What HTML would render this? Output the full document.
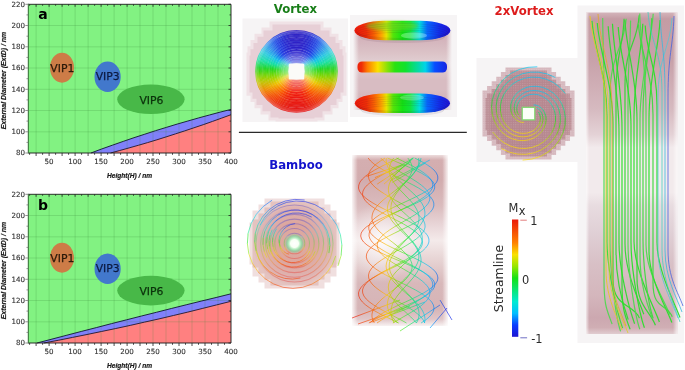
<!DOCTYPE html>
<html><head><meta charset="utf-8"><style>
html,body{margin:0;padding:0;background:#fff;}
body{width:685px;height:370px;overflow:hidden;position:relative;}
svg{position:absolute;left:0;top:0;display:block;}
</style></head><body>
<svg width="685" height="370" viewBox="0 0 685 370"><defs><filter id="soft" x="-5%" y="-5%" width="110%" height="110%"><feGaussianBlur stdDeviation="0.35"/></filter><linearGradient id="vr0" x1="0" y1="0" x2="0" y2="1"><stop offset="0%" stop-color="#3028d0"/><stop offset="5%" stop-color="#2c44e0"/><stop offset="10%" stop-color="#2860f0"/><stop offset="15%" stop-color="#22aaea"/><stop offset="20%" stop-color="#20ccbe"/><stop offset="25%" stop-color="#20d378"/><stop offset="30%" stop-color="#20d83e"/><stop offset="35%" stop-color="#20d834"/><stop offset="40%" stop-color="#20d82a"/><stop offset="45%" stop-color="#20d820"/><stop offset="50%" stop-color="#33d817"/><stop offset="55%" stop-color="#46d80d"/><stop offset="60%" stop-color="#58d804"/><stop offset="65%" stop-color="#86d800"/><stop offset="70%" stop-color="#c6d800"/><stop offset="75%" stop-color="#e7c400"/><stop offset="80%" stop-color="#f3a200"/><stop offset="85%" stop-color="#ff8000"/><stop offset="90%" stop-color="#fb4e0a"/><stop offset="95%" stop-color="#f32910"/><stop offset="100%" stop-color="#e81810"/></linearGradient><linearGradient id="vr1" x1="0" y1="0" x2="0" y2="1"><stop offset="0%" stop-color="#2f27cf"/><stop offset="5%" stop-color="#2b40de"/><stop offset="10%" stop-color="#275aee"/><stop offset="15%" stop-color="#219eea"/><stop offset="20%" stop-color="#1ec3c6"/><stop offset="25%" stop-color="#1dd08b"/><stop offset="30%" stop-color="#1dd755"/><stop offset="35%" stop-color="#1dd946"/><stop offset="40%" stop-color="#1fd933"/><stop offset="45%" stop-color="#20d820"/><stop offset="50%" stop-color="#35d816"/><stop offset="55%" stop-color="#4ad80d"/><stop offset="60%" stop-color="#5fd803"/><stop offset="65%" stop-color="#8bd800"/><stop offset="70%" stop-color="#c6d700"/><stop offset="75%" stop-color="#e7c600"/><stop offset="80%" stop-color="#f3a500"/><stop offset="85%" stop-color="#fe8300"/><stop offset="90%" stop-color="#fb5408"/><stop offset="95%" stop-color="#f42e0f"/><stop offset="100%" stop-color="#e91810"/></linearGradient><linearGradient id="vr2" x1="0" y1="0" x2="0" y2="1"><stop offset="0%" stop-color="#2e25cd"/><stop offset="5%" stop-color="#2a3bdc"/><stop offset="10%" stop-color="#2652eb"/><stop offset="15%" stop-color="#208eea"/><stop offset="20%" stop-color="#1cb7d0"/><stop offset="25%" stop-color="#1acda3"/><stop offset="30%" stop-color="#1ad671"/><stop offset="35%" stop-color="#1adb5d"/><stop offset="40%" stop-color="#1dda3f"/><stop offset="45%" stop-color="#20d820"/><stop offset="50%" stop-color="#38d816"/><stop offset="55%" stop-color="#50d80c"/><stop offset="60%" stop-color="#68d802"/><stop offset="65%" stop-color="#91d700"/><stop offset="70%" stop-color="#c6d600"/><stop offset="75%" stop-color="#e8c900"/><stop offset="80%" stop-color="#f4a900"/><stop offset="85%" stop-color="#fd8700"/><stop offset="90%" stop-color="#fc5b06"/><stop offset="95%" stop-color="#f5330d"/><stop offset="100%" stop-color="#eb1810"/></linearGradient><linearGradient id="vr3" x1="0" y1="0" x2="0" y2="1"><stop offset="0%" stop-color="#2e23cb"/><stop offset="5%" stop-color="#2937da"/><stop offset="10%" stop-color="#244ae8"/><stop offset="15%" stop-color="#1f7eea"/><stop offset="20%" stop-color="#1aabda"/><stop offset="25%" stop-color="#16c9bb"/><stop offset="30%" stop-color="#16d48e"/><stop offset="35%" stop-color="#16dd74"/><stop offset="40%" stop-color="#1bda4a"/><stop offset="45%" stop-color="#20d820"/><stop offset="50%" stop-color="#3bd816"/><stop offset="55%" stop-color="#55d80c"/><stop offset="60%" stop-color="#70d802"/><stop offset="65%" stop-color="#97d700"/><stop offset="70%" stop-color="#c6d500"/><stop offset="75%" stop-color="#e8cb00"/><stop offset="80%" stop-color="#f4ad00"/><stop offset="85%" stop-color="#fc8b00"/><stop offset="90%" stop-color="#fd6204"/><stop offset="95%" stop-color="#f6390b"/><stop offset="100%" stop-color="#ed1810"/></linearGradient><linearGradient id="vr4" x1="0" y1="0" x2="0" y2="1"><stop offset="0%" stop-color="#2d22ca"/><stop offset="5%" stop-color="#2832d7"/><stop offset="10%" stop-color="#2342e5"/><stop offset="15%" stop-color="#1d6eea"/><stop offset="20%" stop-color="#17a0e4"/><stop offset="25%" stop-color="#13c6d3"/><stop offset="30%" stop-color="#13d3ab"/><stop offset="35%" stop-color="#13de8b"/><stop offset="40%" stop-color="#1adb56"/><stop offset="45%" stop-color="#20d820"/><stop offset="50%" stop-color="#3dd816"/><stop offset="55%" stop-color="#5bd80b"/><stop offset="60%" stop-color="#78d801"/><stop offset="65%" stop-color="#9ed600"/><stop offset="70%" stop-color="#c6d400"/><stop offset="75%" stop-color="#e9ce00"/><stop offset="80%" stop-color="#f4b100"/><stop offset="85%" stop-color="#fb8f00"/><stop offset="90%" stop-color="#fe6a02"/><stop offset="95%" stop-color="#f73f0a"/><stop offset="100%" stop-color="#ee1810"/></linearGradient><linearGradient id="vr5" x1="0" y1="0" x2="0" y2="1"><stop offset="0%" stop-color="#2c20c8"/><stop offset="5%" stop-color="#272dd5"/><stop offset="10%" stop-color="#223be3"/><stop offset="15%" stop-color="#1c61ea"/><stop offset="20%" stop-color="#1696ed"/><stop offset="25%" stop-color="#11c3e9"/><stop offset="30%" stop-color="#10d2c4"/><stop offset="35%" stop-color="#10e0a0"/><stop offset="40%" stop-color="#18dc60"/><stop offset="45%" stop-color="#20d820"/><stop offset="50%" stop-color="#40d815"/><stop offset="55%" stop-color="#60d80b"/><stop offset="60%" stop-color="#80d800"/><stop offset="65%" stop-color="#a4d500"/><stop offset="70%" stop-color="#c6d200"/><stop offset="75%" stop-color="#e9cf00"/><stop offset="80%" stop-color="#f4b300"/><stop offset="85%" stop-color="#fa9100"/><stop offset="90%" stop-color="#ff6f00"/><stop offset="95%" stop-color="#f74408"/><stop offset="100%" stop-color="#f01810"/></linearGradient><linearGradient id="vr6" x1="0" y1="0" x2="0" y2="1"><stop offset="0%" stop-color="#2d20c7"/><stop offset="5%" stop-color="#272fd5"/><stop offset="10%" stop-color="#2440e4"/><stop offset="15%" stop-color="#2167ea"/><stop offset="20%" stop-color="#1b99ec"/><stop offset="25%" stop-color="#16c5e7"/><stop offset="30%" stop-color="#14d2c4"/><stop offset="35%" stop-color="#12e0a0"/><stop offset="40%" stop-color="#19dc61"/><stop offset="45%" stop-color="#20d722"/><stop offset="50%" stop-color="#41d715"/><stop offset="55%" stop-color="#63d70a"/><stop offset="60%" stop-color="#85d600"/><stop offset="65%" stop-color="#a8d200"/><stop offset="70%" stop-color="#c9cc00"/><stop offset="75%" stop-color="#eac500"/><stop offset="80%" stop-color="#f4a801"/><stop offset="85%" stop-color="#f88702"/><stop offset="90%" stop-color="#fc6702"/><stop offset="95%" stop-color="#f53f09"/><stop offset="100%" stop-color="#ee1710"/></linearGradient><linearGradient id="vr7" x1="0" y1="0" x2="0" y2="1"><stop offset="0%" stop-color="#2d20c6"/><stop offset="5%" stop-color="#2630d5"/><stop offset="10%" stop-color="#2646e4"/><stop offset="15%" stop-color="#256deb"/><stop offset="20%" stop-color="#209deb"/><stop offset="25%" stop-color="#1cc7e6"/><stop offset="30%" stop-color="#18d3c3"/><stop offset="35%" stop-color="#14e0a1"/><stop offset="40%" stop-color="#1adb63"/><stop offset="45%" stop-color="#20d624"/><stop offset="50%" stop-color="#41d615"/><stop offset="55%" stop-color="#66d60a"/><stop offset="60%" stop-color="#8ad400"/><stop offset="65%" stop-color="#adcf00"/><stop offset="70%" stop-color="#ccc500"/><stop offset="75%" stop-color="#ebba00"/><stop offset="80%" stop-color="#f39d02"/><stop offset="85%" stop-color="#f77c04"/><stop offset="90%" stop-color="#fa5f04"/><stop offset="95%" stop-color="#f33a0a"/><stop offset="100%" stop-color="#ec1610"/></linearGradient><linearGradient id="vr8" x1="0" y1="0" x2="0" y2="1"><stop offset="0%" stop-color="#2e20c5"/><stop offset="5%" stop-color="#2631d6"/><stop offset="10%" stop-color="#284be5"/><stop offset="15%" stop-color="#2a74eb"/><stop offset="20%" stop-color="#26a1ea"/><stop offset="25%" stop-color="#22c8e4"/><stop offset="30%" stop-color="#1cd4c2"/><stop offset="35%" stop-color="#17e0a1"/><stop offset="40%" stop-color="#1bdb64"/><stop offset="45%" stop-color="#20d626"/><stop offset="50%" stop-color="#42d515"/><stop offset="55%" stop-color="#69d509"/><stop offset="60%" stop-color="#8ed300"/><stop offset="65%" stop-color="#b2cc00"/><stop offset="70%" stop-color="#cfbe00"/><stop offset="75%" stop-color="#ecb000"/><stop offset="80%" stop-color="#f39204"/><stop offset="85%" stop-color="#f67206"/><stop offset="90%" stop-color="#f75706"/><stop offset="95%" stop-color="#f0360b"/><stop offset="100%" stop-color="#ea1510"/></linearGradient><linearGradient id="vr9" x1="0" y1="0" x2="0" y2="1"><stop offset="0%" stop-color="#2e20c4"/><stop offset="5%" stop-color="#2632d6"/><stop offset="10%" stop-color="#2a50e6"/><stop offset="15%" stop-color="#2e7aeb"/><stop offset="20%" stop-color="#2ba5e9"/><stop offset="25%" stop-color="#27cae3"/><stop offset="30%" stop-color="#20d5c2"/><stop offset="35%" stop-color="#19e0a1"/><stop offset="40%" stop-color="#1cdb65"/><stop offset="45%" stop-color="#20d528"/><stop offset="50%" stop-color="#43d415"/><stop offset="55%" stop-color="#6cd409"/><stop offset="60%" stop-color="#93d100"/><stop offset="65%" stop-color="#b7c900"/><stop offset="70%" stop-color="#d2b700"/><stop offset="75%" stop-color="#eda601"/><stop offset="80%" stop-color="#f28705"/><stop offset="85%" stop-color="#f46708"/><stop offset="90%" stop-color="#f44e08"/><stop offset="95%" stop-color="#ee310c"/><stop offset="100%" stop-color="#e81410"/></linearGradient><linearGradient id="vr10" x1="0" y1="0" x2="0" y2="1"><stop offset="0%" stop-color="#2f20c3"/><stop offset="5%" stop-color="#2633d6"/><stop offset="10%" stop-color="#2c55e7"/><stop offset="15%" stop-color="#3380eb"/><stop offset="20%" stop-color="#30a8e8"/><stop offset="25%" stop-color="#2dcce1"/><stop offset="30%" stop-color="#24d6c1"/><stop offset="35%" stop-color="#1be0a1"/><stop offset="40%" stop-color="#1dda66"/><stop offset="45%" stop-color="#20d42a"/><stop offset="50%" stop-color="#44d315"/><stop offset="55%" stop-color="#70d308"/><stop offset="60%" stop-color="#97cf00"/><stop offset="65%" stop-color="#bbc600"/><stop offset="70%" stop-color="#d5b100"/><stop offset="75%" stop-color="#ed9b01"/><stop offset="80%" stop-color="#f27c06"/><stop offset="85%" stop-color="#f35c0a"/><stop offset="90%" stop-color="#f2460a"/><stop offset="95%" stop-color="#ec2d0d"/><stop offset="100%" stop-color="#e61310"/></linearGradient><linearGradient id="vr11" x1="0" y1="0" x2="0" y2="1"><stop offset="0%" stop-color="#2f20c2"/><stop offset="5%" stop-color="#2634d6"/><stop offset="10%" stop-color="#2e5ae8"/><stop offset="15%" stop-color="#3787ec"/><stop offset="20%" stop-color="#36ace8"/><stop offset="25%" stop-color="#33cddf"/><stop offset="30%" stop-color="#28d7c1"/><stop offset="35%" stop-color="#1de0a2"/><stop offset="40%" stop-color="#1eda68"/><stop offset="45%" stop-color="#20d32c"/><stop offset="50%" stop-color="#44d215"/><stop offset="55%" stop-color="#73d208"/><stop offset="60%" stop-color="#9ccd00"/><stop offset="65%" stop-color="#c0c300"/><stop offset="70%" stop-color="#d8aa00"/><stop offset="75%" stop-color="#ee9101"/><stop offset="80%" stop-color="#f17107"/><stop offset="85%" stop-color="#f2520c"/><stop offset="90%" stop-color="#ef3e0c"/><stop offset="95%" stop-color="#ea280e"/><stop offset="100%" stop-color="#e41210"/></linearGradient><linearGradient id="vr12" x1="0" y1="0" x2="0" y2="1"><stop offset="0%" stop-color="#3020c1"/><stop offset="5%" stop-color="#2535d6"/><stop offset="10%" stop-color="#3060e8"/><stop offset="15%" stop-color="#3c8dec"/><stop offset="20%" stop-color="#3bb0e7"/><stop offset="25%" stop-color="#39cfde"/><stop offset="30%" stop-color="#2cd7c0"/><stop offset="35%" stop-color="#1fdfa2"/><stop offset="40%" stop-color="#1fda69"/><stop offset="45%" stop-color="#20d32d"/><stop offset="50%" stop-color="#45d115"/><stop offset="55%" stop-color="#76d107"/><stop offset="60%" stop-color="#a0cc00"/><stop offset="65%" stop-color="#c5c000"/><stop offset="70%" stop-color="#dba300"/><stop offset="75%" stop-color="#ef8601"/><stop offset="80%" stop-color="#f16608"/><stop offset="85%" stop-color="#f0470e"/><stop offset="90%" stop-color="#ed360e"/><stop offset="95%" stop-color="#e7230f"/><stop offset="100%" stop-color="#e21110"/></linearGradient><linearGradient id="vr13" x1="0" y1="0" x2="0" y2="1"><stop offset="0%" stop-color="#3020c0"/><stop offset="5%" stop-color="#2536d6"/><stop offset="10%" stop-color="#3265e9"/><stop offset="15%" stop-color="#4093ec"/><stop offset="20%" stop-color="#40b4e6"/><stop offset="25%" stop-color="#3ed1dd"/><stop offset="30%" stop-color="#30d8bf"/><stop offset="35%" stop-color="#21dfa2"/><stop offset="40%" stop-color="#20d96a"/><stop offset="45%" stop-color="#20d22f"/><stop offset="50%" stop-color="#46d015"/><stop offset="55%" stop-color="#79d007"/><stop offset="60%" stop-color="#a5ca00"/><stop offset="65%" stop-color="#cabd00"/><stop offset="70%" stop-color="#de9d00"/><stop offset="75%" stop-color="#f07c01"/><stop offset="80%" stop-color="#f05b09"/><stop offset="85%" stop-color="#ef3d10"/><stop offset="90%" stop-color="#ea2e10"/><stop offset="95%" stop-color="#e51f10"/><stop offset="100%" stop-color="#e01010"/></linearGradient><radialGradient id="vtglow" cx="0.5" cy="0.5" r="0.5"><stop offset="0" stop-color="#ffffff" stop-opacity="0.85"/><stop offset="0.3" stop-color="#ffffff" stop-opacity="0.35"/><stop offset="0.55" stop-color="#ffffff" stop-opacity="0.0"/><stop offset="0.9" stop-color="#ffffff" stop-opacity="0.0"/><stop offset="1" stop-color="#ffffff" stop-opacity="0.25"/></radialGradient><linearGradient id="vscyl" x1="0" y1="0" x2="0" y2="1"><stop offset="0" stop-color="#d0aeb6" stop-opacity="1"/><stop offset="0.12" stop-color="#d4b4bc" stop-opacity="1"/><stop offset="0.3" stop-color="#dcc4c8" stop-opacity="1"/><stop offset="0.42" stop-color="#e2d0d4" stop-opacity="1"/><stop offset="0.5" stop-color="#dcc6ca" stop-opacity="1"/><stop offset="0.62" stop-color="#d8bcc2" stop-opacity="1"/><stop offset="0.75" stop-color="#d8bcc2" stop-opacity="1"/><stop offset="0.88" stop-color="#d2b2b8" stop-opacity="1"/><stop offset="1" stop-color="#e2d0d4" stop-opacity="1"/></linearGradient><linearGradient id="vsside" x1="0" y1="0" x2="1" y2="0"><stop offset="0" stop-color="#f6f4f5" stop-opacity="1"/><stop offset="0.06" stop-color="#f6f4f5" stop-opacity="0.0"/><stop offset="0.94" stop-color="#f6f4f5" stop-opacity="0"/><stop offset="1" stop-color="#f6f4f5" stop-opacity="1"/></linearGradient><linearGradient id="vsh" gradientUnits="userSpaceOnUse" x1="355" y1="0" x2="450" y2="0"><stop offset="0" stop-color="#eb190a"/><stop offset="0.12" stop-color="#ef2e08"/><stop offset="0.2" stop-color="#f85f03"/><stop offset="0.28" stop-color="#fda700"/><stop offset="0.33" stop-color="#e6e200"/><stop offset="0.4" stop-color="#55e40a"/><stop offset="0.5" stop-color="#14e114"/><stop offset="0.58" stop-color="#10e33a"/><stop offset="0.68" stop-color="#00dee0"/><stop offset="0.76" stop-color="#0767ff"/><stop offset="0.9" stop-color="#1428e8"/><stop offset="1" stop-color="#1e14d2"/></linearGradient><filter id="soft2" x="-20%" y="-50%" width="140%" height="200%"><feGaussianBlur stdDeviation="1.5"/></filter><linearGradient id="vsm" gradientUnits="userSpaceOnUse" x1="355" y1="0" x2="450" y2="0"><stop offset="0" stop-color="#eb190a"/><stop offset="0.07" stop-color="#ef2e08"/><stop offset="0.13" stop-color="#fe7b01"/><stop offset="0.24" stop-color="#fae100"/><stop offset="0.42" stop-color="#2ae211"/><stop offset="0.53" stop-color="#11e22d"/><stop offset="0.74" stop-color="#00d4e8"/><stop offset="0.84" stop-color="#094dff"/><stop offset="1" stop-color="#1a1cdb"/></linearGradient><radialGradient id="btpink"><stop offset="0" stop-color="#d89080" stop-opacity="0.5"/><stop offset="0.5" stop-color="#d89488" stop-opacity="0.6"/><stop offset="0.85" stop-color="#d8a0a0" stop-opacity="0.45"/><stop offset="1" stop-color="#d8a8a4" stop-opacity="0"/></radialGradient><radialGradient id="btglow"><stop offset="0" stop-color="#ffffff" stop-opacity="1"/><stop offset="0.4" stop-color="#f8fff4" stop-opacity="1"/><stop offset="0.6" stop-color="#a8f4c0" stop-opacity="0.85"/><stop offset="0.8" stop-color="#60e0a0" stop-opacity="0.5"/><stop offset="1" stop-color="#60e0a0" stop-opacity="0"/></radialGradient><linearGradient id="bscyl" x1="0" y1="0" x2="0" y2="1"><stop offset="0" stop-color="#ecdcdc" stop-opacity="1"/><stop offset="0.03" stop-color="#d4aeb0" stop-opacity="1"/><stop offset="0.15" stop-color="#d2acae" stop-opacity="1"/><stop offset="0.3" stop-color="#dabcbe" stop-opacity="1"/><stop offset="0.42" stop-color="#ead8da" stop-opacity="1"/><stop offset="0.5" stop-color="#f4eaea" stop-opacity="1"/><stop offset="0.6" stop-color="#e8d6d6" stop-opacity="1"/><stop offset="0.75" stop-color="#d8b8ba" stop-opacity="1"/><stop offset="0.9" stop-color="#d6b4b6" stop-opacity="1"/><stop offset="0.96" stop-color="#e0c6c8" stop-opacity="1"/><stop offset="1" stop-color="#f8f2f2" stop-opacity="1"/></linearGradient><linearGradient id="bsside" x1="0" y1="0" x2="1" y2="0"><stop offset="0" stop-color="#ffffff" stop-opacity="0.85"/><stop offset="0.06" stop-color="#ffffff" stop-opacity="0.0"/><stop offset="0.94" stop-color="#ffffff" stop-opacity="0"/><stop offset="1" stop-color="#ffffff" stop-opacity="0.85"/></linearGradient><radialGradient id="bsglow" cx="0.5" cy="0.5" r="0.5"><stop offset="0" stop-color="#ffffff" stop-opacity="0.75"/><stop offset="0.5" stop-color="#ffffff" stop-opacity="0.35"/><stop offset="1" stop-color="#ffffff" stop-opacity="0"/></radialGradient><linearGradient id="bsh" gradientUnits="userSpaceOnUse" x1="355" y1="0" x2="445" y2="0"><stop offset="0" stop-color="#eb190a"/><stop offset="0.2" stop-color="#f85f03"/><stop offset="0.35" stop-color="#fcc400"/><stop offset="0.5" stop-color="#55e40a"/><stop offset="0.65" stop-color="#09e679"/><stop offset="0.8" stop-color="#00beff"/><stop offset="1" stop-color="#1428e8"/></linearGradient><pattern id="dots" width="2.3" height="2.3" patternUnits="userSpaceOnUse"><rect width="1.1" height="1.1" fill="#ffffff" fill-opacity="0.16"/></pattern><linearGradient id="v2cyl" x1="0" y1="0" x2="0" y2="1"><stop offset="0" stop-color="#d4b4ba" stop-opacity="1"/><stop offset="0.02" stop-color="#c49ca4" stop-opacity="1"/><stop offset="0.15" stop-color="#c8a2aa" stop-opacity="1"/><stop offset="0.3" stop-color="#d6bac0" stop-opacity="1"/><stop offset="0.38" stop-color="#e4d2d6" stop-opacity="1"/><stop offset="0.42" stop-color="#f2eaec" stop-opacity="1"/><stop offset="0.56" stop-color="#f2eaec" stop-opacity="1"/><stop offset="0.6" stop-color="#e8dce0" stop-opacity="1"/><stop offset="0.68" stop-color="#e0d0d6" stop-opacity="1"/><stop offset="0.78" stop-color="#d8c0c6" stop-opacity="1"/><stop offset="0.88" stop-color="#d4b6bc" stop-opacity="1"/><stop offset="0.95" stop-color="#cca8b0" stop-opacity="1"/><stop offset="0.98" stop-color="#d0aeb4" stop-opacity="1"/><stop offset="1" stop-color="#e0ccd0" stop-opacity="1"/></linearGradient><linearGradient id="v2side" x1="0" y1="0" x2="1" y2="0"><stop offset="0" stop-color="#ffffff" stop-opacity="0.7"/><stop offset="0.035" stop-color="#ffffff" stop-opacity="0.0"/><stop offset="0.95" stop-color="#ffffff" stop-opacity="0"/><stop offset="1" stop-color="#ffffff" stop-opacity="0.7"/></linearGradient><linearGradient id="v2h" gradientUnits="userSpaceOnUse" x1="586" y1="0" x2="680" y2="0"><stop offset="0" stop-color="#fbd200"/><stop offset="0.1" stop-color="#e6e200"/><stop offset="0.17" stop-color="#4ae30c"/><stop offset="0.25" stop-color="#14e114"/><stop offset="0.72" stop-color="#13e221"/><stop offset="0.82" stop-color="#09e679"/><stop offset="0.9" stop-color="#00d4e8"/><stop offset="1" stop-color="#094dff"/></linearGradient><linearGradient id="cb" x1="0" y1="0" x2="0" y2="1"><stop offset="0" stop-color="#eb190a"/><stop offset="0.2" stop-color="#ff8200"/><stop offset="0.3" stop-color="#fae100"/><stop offset="0.4" stop-color="#96e600"/><stop offset="0.5" stop-color="#14e114"/><stop offset="0.7" stop-color="#00ebd2"/><stop offset="0.8" stop-color="#00beff"/><stop offset="0.9" stop-color="#0a3cff"/><stop offset="1" stop-color="#1e14d2"/></linearGradient></defs>
<rect x="28.3" y="4.3" width="202.7" height="148.7" fill="#82f282"/>
<polygon points="90.9,153 101.6,149 112.4,145.2 123.2,141.4 134,137.7 144.8,134.2 155.5,130.7 166.3,127.4 177.1,124.1 187.9,121 198.7,117.9 209.4,115 220.2,112.1 231,109.4 231,153" fill="#8080fa"/>
<polygon points="110.5,153 119.8,150.5 129.1,147.9 138.3,145.3 147.6,142.6 156.9,139.8 166.1,136.9 175.4,133.9 184.7,130.9 193.9,127.8 203.2,124.7 212.5,121.4 221.7,118.1 231,114.7 231,153" fill="#ff8080"/>
<path d="M36.1 4.3V153M49.1 4.3V153M62.1 4.3V153M75.1 4.3V153M88.1 4.3V153M101.1 4.3V153M114.1 4.3V153M127.1 4.3V153M140 4.3V153M153 4.3V153M166 4.3V153M179 4.3V153M192 4.3V153M205 4.3V153M218 4.3V153M28.3 131.8H231M28.3 110.5H231M28.3 89.3H231M28.3 68H231M28.3 46.8H231M28.3 25.5H231" stroke="#3a8a3a" stroke-opacity="0.27" stroke-width="0.8" fill="none"/>
<polyline points="90.9,153 101.6,149 112.4,145.2 123.2,141.4 134,137.7 144.8,134.2 155.5,130.7 166.3,127.4 177.1,124.1 187.9,121 198.7,117.9 209.4,115 220.2,112.1 231,109.4" fill="none" stroke="#101830" stroke-width="0.9"/>
<polyline points="110.5,153 119.8,150.5 129.1,147.9 138.3,145.3 147.6,142.6 156.9,139.8 166.1,136.9 175.4,133.9 184.7,130.9 193.9,127.8 203.2,124.7 212.5,121.4 221.7,118.1 231,114.7" fill="none" stroke="#201830" stroke-width="0.9"/>
<ellipse cx="62" cy="67.7" rx="12" ry="15" fill="#cd7c47"/>
<ellipse cx="107.6" cy="76.7" rx="13.1" ry="15.2" fill="#4278cc"/>
<ellipse cx="150.9" cy="99.3" rx="33.7" ry="14.8" fill="#48b848"/>
<g font-family="DejaVu Sans, sans-serif" font-size="10.8" text-anchor="middle" stroke-width="0.25">
<text x="62.3" y="71.6" fill="#2a1808" stroke="#2a1808">VIP1</text>
<text x="107.7" y="80.4" fill="#0c1a40" stroke="#0c1a40">VIP3</text>
<text x="151.4" y="103.5" fill="#0a300a" stroke="#0a300a">VIP6</text>
</g>
<path d="M28.3 4.3H231V153H28.3" fill="none" stroke="#1a1a1a" stroke-width="0.9"/>
<path d="M28.3 3.8V153.4" fill="none" stroke="#2e6a2e" stroke-width="1"/>
<path d="M29.6 153v1.8M29.6 4.3v1.5M36.1 153v3M36.1 4.3v2.5M42.6 153v1.8M42.6 4.3v1.5M49.1 153v3M49.1 4.3v2.5M55.6 153v1.8M55.6 4.3v1.5M62.1 153v3M62.1 4.3v2.5M68.6 153v1.8M68.6 4.3v1.5M75.1 153v3M75.1 4.3v2.5M81.6 153v1.8M81.6 4.3v1.5M88.1 153v3M88.1 4.3v2.5M94.6 153v1.8M94.6 4.3v1.5M101.1 153v3M101.1 4.3v2.5M107.6 153v1.8M107.6 4.3v1.5M114.1 153v3M114.1 4.3v2.5M120.6 153v1.8M120.6 4.3v1.5M127.1 153v3M127.1 4.3v2.5M133.5 153v1.8M133.5 4.3v1.5M140 153v3M140 4.3v2.5M146.5 153v1.8M146.5 4.3v1.5M153 153v3M153 4.3v2.5M159.5 153v1.8M159.5 4.3v1.5M166 153v3M166 4.3v2.5M172.5 153v1.8M172.5 4.3v1.5M179 153v3M179 4.3v2.5M185.5 153v1.8M185.5 4.3v1.5M192 153v3M192 4.3v2.5M198.5 153v1.8M198.5 4.3v1.5M205 153v3M205 4.3v2.5M211.5 153v1.8M211.5 4.3v1.5M218 153v3M218 4.3v2.5M224.5 153v1.8M224.5 4.3v1.5M231 153h-2.5M231 142.4h-1.5M231 131.8h-2.5M231 121.1h-1.5M231 110.5h-2.5M231 99.9h-1.5M231 89.3h-2.5M231 78.7h-1.5M231 68h-2.5M231 57.4h-1.5M231 46.8h-2.5M231 36.2h-1.5M231 25.5h-2.5M231 14.9h-1.5M231 4.3h-2.5" stroke="#222" stroke-width="0.8" fill="none"/>
<path d="M28.3 153h-3M28.3 142.4h-1.8M28.3 131.8h-3M28.3 121.1h-1.8M28.3 110.5h-3M28.3 99.9h-1.8M28.3 89.3h-3M28.3 78.7h-1.8M28.3 68h-3M28.3 57.4h-1.8M28.3 46.8h-3M28.3 36.2h-1.8M28.3 25.5h-3M28.3 14.9h-1.8M28.3 4.3h-3" stroke="#777" stroke-width="0.8" fill="none"/>
<g font-family="DejaVu Sans, sans-serif" font-size="7.1" fill="#333" stroke="#333" stroke-width="0.12">
<text x="49.1" y="164.3" text-anchor="middle">50</text>
<text x="75.1" y="164.3" text-anchor="middle">100</text>
<text x="101.1" y="164.3" text-anchor="middle">150</text>
<text x="127.1" y="164.3" text-anchor="middle">200</text>
<text x="153" y="164.3" text-anchor="middle">250</text>
<text x="179" y="164.3" text-anchor="middle">300</text>
<text x="205" y="164.3" text-anchor="middle">350</text>
<text x="231" y="164.3" text-anchor="middle">400</text>
<text x="25" y="155.3" text-anchor="end">80</text>
<text x="25" y="134.1" text-anchor="end">100</text>
<text x="25" y="112.8" text-anchor="end">120</text>
<text x="25" y="91.6" text-anchor="end">140</text>
<text x="25" y="70.3" text-anchor="end">160</text>
<text x="25" y="49.1" text-anchor="end">180</text>
<text x="25" y="27.8" text-anchor="end">200</text>
<text x="25" y="6.6" text-anchor="end">220</text>
</g>
<text x="129.5" y="177.7" font-family="Liberation Sans, sans-serif" font-weight="bold" font-style="italic" font-size="6.6" fill="#1a1a1a" stroke="#1a1a1a" stroke-width="0.18" text-anchor="middle">Height(H) / nm</text>
<text transform="translate(6 80.5) rotate(-90)" font-family="Liberation Sans, sans-serif" font-weight="bold" font-style="italic" font-size="6.95" fill="#1a1a1a" stroke="#1a1a1a" stroke-width="0.18" text-anchor="middle">External Diameter (ExtD) / nm</text>
<text x="38.3" y="18.9" font-family="DejaVu Sans, sans-serif" font-weight="bold" font-size="14" fill="#000">a</text>
<rect x="28.3" y="194.3" width="202.7" height="148.7" fill="#82f282"/>
<polygon points="37,343 52,339.1 66.9,335.2 81.8,331.3 96.7,327.5 111.6,323.6 126.6,319.8 141.5,316 156.4,312.3 171.3,308.5 186.2,304.8 201.2,301.1 216.1,297.5 231,293.8 231,343" fill="#8080fa"/>
<polygon points="43.8,343 58.2,340.3 72.6,337.4 87,334.5 101.4,331.5 115.8,328.5 130.2,325.4 144.6,322.1 159,318.9 173.4,315.5 187.8,312.1 202.2,308.5 216.6,304.9 231,301.3 231,343" fill="#ff8080"/>
<path d="M36.1 194.3V343M49.1 194.3V343M62.1 194.3V343M75.1 194.3V343M88.1 194.3V343M101.1 194.3V343M114.1 194.3V343M127.1 194.3V343M140 194.3V343M153 194.3V343M166 194.3V343M179 194.3V343M192 194.3V343M205 194.3V343M218 194.3V343M28.3 321.8H231M28.3 300.5H231M28.3 279.3H231M28.3 258H231M28.3 236.8H231M28.3 215.5H231" stroke="#3a8a3a" stroke-opacity="0.27" stroke-width="0.8" fill="none"/>
<polyline points="37,343 52,339.1 66.9,335.2 81.8,331.3 96.7,327.5 111.6,323.6 126.6,319.8 141.5,316 156.4,312.3 171.3,308.5 186.2,304.8 201.2,301.1 216.1,297.5 231,293.8" fill="none" stroke="#101830" stroke-width="0.9"/>
<polyline points="43.8,343 58.2,340.3 72.6,337.4 87,334.5 101.4,331.5 115.8,328.5 130.2,325.4 144.6,322.1 159,318.9 173.4,315.5 187.8,312.1 202.2,308.5 216.6,304.9 231,301.3" fill="none" stroke="#201830" stroke-width="0.9"/>
<ellipse cx="62" cy="257.7" rx="12" ry="15" fill="#cd7c47"/>
<ellipse cx="107.6" cy="268.7" rx="13.1" ry="15.2" fill="#4278cc"/>
<ellipse cx="150.9" cy="290.6" rx="33.7" ry="14.8" fill="#48b848"/>
<g font-family="DejaVu Sans, sans-serif" font-size="10.8" text-anchor="middle" stroke-width="0.25">
<text x="62.3" y="261.6" fill="#2a1808" stroke="#2a1808">VIP1</text>
<text x="107.7" y="272.4" fill="#0c1a40" stroke="#0c1a40">VIP3</text>
<text x="151.4" y="294.8" fill="#0a300a" stroke="#0a300a">VIP6</text>
</g>
<path d="M28.3 194.3H231V343H28.3" fill="none" stroke="#1a1a1a" stroke-width="0.9"/>
<path d="M28.3 193.9V343.4" fill="none" stroke="#2e6a2e" stroke-width="1"/>
<path d="M29.6 343v1.8M29.6 194.3v1.5M36.1 343v3M36.1 194.3v2.5M42.6 343v1.8M42.6 194.3v1.5M49.1 343v3M49.1 194.3v2.5M55.6 343v1.8M55.6 194.3v1.5M62.1 343v3M62.1 194.3v2.5M68.6 343v1.8M68.6 194.3v1.5M75.1 343v3M75.1 194.3v2.5M81.6 343v1.8M81.6 194.3v1.5M88.1 343v3M88.1 194.3v2.5M94.6 343v1.8M94.6 194.3v1.5M101.1 343v3M101.1 194.3v2.5M107.6 343v1.8M107.6 194.3v1.5M114.1 343v3M114.1 194.3v2.5M120.6 343v1.8M120.6 194.3v1.5M127.1 343v3M127.1 194.3v2.5M133.5 343v1.8M133.5 194.3v1.5M140 343v3M140 194.3v2.5M146.5 343v1.8M146.5 194.3v1.5M153 343v3M153 194.3v2.5M159.5 343v1.8M159.5 194.3v1.5M166 343v3M166 194.3v2.5M172.5 343v1.8M172.5 194.3v1.5M179 343v3M179 194.3v2.5M185.5 343v1.8M185.5 194.3v1.5M192 343v3M192 194.3v2.5M198.5 343v1.8M198.5 194.3v1.5M205 343v3M205 194.3v2.5M211.5 343v1.8M211.5 194.3v1.5M218 343v3M218 194.3v2.5M224.5 343v1.8M224.5 194.3v1.5M231 343h-2.5M231 332.4h-1.5M231 321.8h-2.5M231 311.1h-1.5M231 300.5h-2.5M231 289.9h-1.5M231 279.3h-2.5M231 268.6h-1.5M231 258h-2.5M231 247.4h-1.5M231 236.8h-2.5M231 226.2h-1.5M231 215.5h-2.5M231 204.9h-1.5M231 194.3h-2.5" stroke="#222" stroke-width="0.8" fill="none"/>
<path d="M28.3 343h-3M28.3 332.4h-1.8M28.3 321.8h-3M28.3 311.1h-1.8M28.3 300.5h-3M28.3 289.9h-1.8M28.3 279.3h-3M28.3 268.6h-1.8M28.3 258h-3M28.3 247.4h-1.8M28.3 236.8h-3M28.3 226.2h-1.8M28.3 215.5h-3M28.3 204.9h-1.8M28.3 194.3h-3" stroke="#777" stroke-width="0.8" fill="none"/>
<g font-family="DejaVu Sans, sans-serif" font-size="7.1" fill="#333" stroke="#333" stroke-width="0.12">
<text x="49.1" y="354.3" text-anchor="middle">50</text>
<text x="75.1" y="354.3" text-anchor="middle">100</text>
<text x="101.1" y="354.3" text-anchor="middle">150</text>
<text x="127.1" y="354.3" text-anchor="middle">200</text>
<text x="153" y="354.3" text-anchor="middle">250</text>
<text x="179" y="354.3" text-anchor="middle">300</text>
<text x="205" y="354.3" text-anchor="middle">350</text>
<text x="231" y="354.3" text-anchor="middle">400</text>
<text x="25" y="345.3" text-anchor="end">80</text>
<text x="25" y="324.1" text-anchor="end">100</text>
<text x="25" y="302.8" text-anchor="end">120</text>
<text x="25" y="281.6" text-anchor="end">140</text>
<text x="25" y="260.3" text-anchor="end">160</text>
<text x="25" y="239.1" text-anchor="end">180</text>
<text x="25" y="217.8" text-anchor="end">200</text>
<text x="25" y="196.6" text-anchor="end">220</text>
</g>
<text x="129.5" y="367.7" font-family="Liberation Sans, sans-serif" font-weight="bold" font-style="italic" font-size="6.6" fill="#1a1a1a" stroke="#1a1a1a" stroke-width="0.18" text-anchor="middle">Height(H) / nm</text>
<text transform="translate(6 270.5) rotate(-90)" font-family="Liberation Sans, sans-serif" font-weight="bold" font-style="italic" font-size="6.95" fill="#1a1a1a" stroke="#1a1a1a" stroke-width="0.18" text-anchor="middle">External Diameter (ExtD) / nm</text>
<text x="37.9" y="210.4" font-family="DejaVu Sans, sans-serif" font-weight="bold" font-size="14" fill="#000">b</text>
<rect x="242.5" y="18.5" width="105.5" height="103.5" fill="#f6f4f5"/>
<path d="M269.5 21.4H323.5V27.6H269.5ZM261.5 27.6H331.5V33.8H261.5ZM254.5 33.8H338.5V40H254.5ZM250.5 40H342.5V46.2H250.5ZM247.5 46.2H345.5V52.4H247.5ZM246.5 52.4H346.5V58.6H246.5ZM246.5 58.6H346.5V64.8H246.5ZM246.5 64.8H346.5V71H246.5ZM246.5 71H346.5V77.2H246.5ZM246.5 77.2H346.5V83.4H246.5ZM246.5 83.4H346.5V89.6H246.5ZM246.5 89.6H346.5V95.8H246.5ZM250.5 95.8H342.5V102H250.5ZM254.5 102H338.5V108.2H254.5ZM260.5 108.2H332.5V114.4H260.5ZM268.5 114.4H324.5V120.6H268.5ZM275.5 120.6H317.5V121.4H275.5Z" fill="#f0e2e6"/>
<path d="M272.5 24.4H320.5V30.6H272.5ZM263.5 30.6H329.5V36.8H263.5ZM257.5 36.8H335.5V43H257.5ZM253.5 43H339.5V49.2H253.5ZM250.5 49.2H342.5V55.4H250.5ZM249.5 55.4H343.5V61.6H249.5ZM249.5 61.6H343.5V67.8H249.5ZM249.5 67.8H343.5V74H249.5ZM249.5 74H343.5V80.2H249.5ZM249.5 80.2H343.5V86.4H249.5ZM249.5 86.4H343.5V92.6H249.5ZM252.5 92.6H340.5V98.8H252.5ZM256.5 98.8H336.5V105H256.5ZM262.5 105H330.5V111.2H262.5ZM270.5 111.2H322.5V117.4H270.5ZM278.5 117.4H314.5V118.4H278.5Z" fill="#e0c0c8" fill-opacity="0.55"/>
<circle cx="296.5" cy="71.4" r="41" fill="#e8e0f0"/>
<g fill="none" stroke-width="2.6"><circle cx="296.5" cy="71.4" r="9.5" stroke="url(#vr0)"/><circle cx="296.5" cy="71.4" r="11.8" stroke="url(#vr1)"/><circle cx="296.5" cy="71.4" r="14.2" stroke="url(#vr2)"/><circle cx="296.5" cy="71.4" r="16.6" stroke="url(#vr3)"/><circle cx="296.5" cy="71.4" r="18.9" stroke="url(#vr4)"/><circle cx="296.5" cy="71.4" r="21.2" stroke="url(#vr5)"/><circle cx="296.5" cy="71.4" r="23.6" stroke="url(#vr6)"/><circle cx="296.5" cy="71.4" r="25.9" stroke="url(#vr7)"/><circle cx="296.5" cy="71.4" r="28.3" stroke="url(#vr8)"/><circle cx="296.5" cy="71.4" r="30.7" stroke="url(#vr9)"/><circle cx="296.5" cy="71.4" r="33" stroke="url(#vr10)"/><circle cx="296.5" cy="71.4" r="35.4" stroke="url(#vr11)"/><circle cx="296.5" cy="71.4" r="37.7" stroke="url(#vr12)"/><circle cx="296.5" cy="71.4" r="40" stroke="url(#vr13)"/></g>
<circle cx="296.5" cy="71.4" r="41" fill="url(#vtglow)"/>
<g fill="none" stroke="#ffffff" stroke-opacity="0.16" stroke-width="0.6"><circle cx="296.5" cy="71.4" r="14"/><circle cx="296.5" cy="71.4" r="17"/><circle cx="296.5" cy="71.4" r="20"/><circle cx="296.5" cy="71.4" r="23"/><circle cx="296.5" cy="71.4" r="25.5"/><circle cx="296.5" cy="71.4" r="28"/><circle cx="296.5" cy="71.4" r="30.5"/><circle cx="296.5" cy="71.4" r="33"/><circle cx="296.5" cy="71.4" r="35.5"/><circle cx="296.5" cy="71.4" r="38"/><circle cx="296.5" cy="71.4" r="40.3"/></g>
<rect x="288.7" y="63.6" width="15.6" height="16" rx="1.5" fill="#fbfbf8"/>
<rect x="350" y="15" width="107" height="102" fill="#f6f4f5"/>
<rect x="353" y="30" width="99" height="80" fill="url(#vscyl)"/>
<rect x="353" y="30" width="99" height="80" fill="url(#vsside)"/>
<rect x="354.4" y="20.8" width="96" height="19.4" rx="30" ry="9.7" fill="url(#vsh)"/>
<ellipse cx="392" cy="26" rx="26" ry="4.5" fill="#70e020" fill-opacity="0.55" filter="url(#soft2)"/>
<ellipse cx="414" cy="35.5" rx="13" ry="3.2" fill="#ffffff" fill-opacity="0.28" filter="url(#soft)"/>
<rect x="357.5" y="61.5" width="89.5" height="11" rx="4.5" fill="url(#vsm)"/>
<rect x="354.8" y="93.4" width="95.2" height="19.6" rx="30" ry="9.8" fill="url(#vsh)"/>
<ellipse cx="412" cy="97.5" rx="12" ry="3" fill="#ffffff" fill-opacity="0.25" filter="url(#soft)"/>
<g fill="none" stroke="#301030" stroke-opacity="0.18" stroke-width="0.5"><ellipse cx="402.4" cy="31" rx="46.5" ry="7.5"/><ellipse cx="402.4" cy="104" rx="46" ry="7.5"/><ellipse cx="402.4" cy="32.6" rx="45.3" ry="6.9"/><ellipse cx="402.4" cy="105.6" rx="44.8" ry="6.9"/><ellipse cx="402.4" cy="34.2" rx="44.1" ry="6.3"/><ellipse cx="402.4" cy="107.2" rx="43.6" ry="6.3"/><ellipse cx="402.4" cy="35.8" rx="42.9" ry="5.7"/><ellipse cx="402.4" cy="108.8" rx="42.4" ry="5.7"/><ellipse cx="402.4" cy="37.4" rx="41.7" ry="5.1"/><ellipse cx="402.4" cy="110.4" rx="41.2" ry="5.1"/></g>
<path d="M264.5 198.5H324.5V204.5H264.5ZM258.5 204.5H330.5V210.5H258.5ZM252.5 210.5H336.5V216.5H252.5ZM252.5 216.5H336.5V222.5H252.5ZM249.5 222.5H339.5V228.5H249.5ZM249.5 228.5H339.5V234.5H249.5ZM249.5 234.5H339.5V240.5H249.5ZM249.5 240.5H339.5V246.5H249.5ZM249.5 246.5H339.5V252.5H249.5ZM249.5 252.5H339.5V258.5H249.5ZM249.5 258.5H339.5V264.5H249.5ZM252.5 264.5H336.5V270.5H252.5ZM252.5 270.5H336.5V276.5H252.5ZM258.5 276.5H330.5V282.5H258.5ZM264.5 282.5H324.5V288.5H264.5Z" fill="#eedcdc" fill-opacity="0.9"/>
<path d="M270.5 201.5H318.5V207.5H270.5ZM264.5 207.5H324.5V213.5H264.5ZM258.5 213.5H330.5V219.5H258.5ZM252.5 219.5H336.5V225.5H252.5ZM252.5 225.5H336.5V231.5H252.5ZM252.5 231.5H336.5V237.5H252.5ZM252.5 237.5H336.5V243.5H252.5ZM252.5 243.5H336.5V249.5H252.5ZM252.5 249.5H336.5V255.5H252.5ZM252.5 255.5H336.5V261.5H252.5ZM252.5 261.5H336.5V267.5H252.5ZM258.5 267.5H330.5V273.5H258.5ZM264.5 273.5H324.5V279.5H264.5ZM270.5 279.5H318.5V285.5H270.5Z" fill="#dcb0ac" fill-opacity="0.6"/>
<circle cx="294.5" cy="243.5" r="42" fill="url(#btpink)"/>
<g fill="none" stroke-width="1.1" stroke-opacity="0.3"><circle cx="294.5" cy="243.5" r="10.3" stroke="url(#vr0)"/><circle cx="294.5" cy="243.5" r="15" stroke="url(#vr2)"/><circle cx="294.5" cy="243.5" r="19.7" stroke="url(#vr4)"/><circle cx="294.5" cy="243.5" r="24.4" stroke="url(#vr6)"/><circle cx="294.5" cy="243.5" r="29.1" stroke="url(#vr8)"/><circle cx="294.5" cy="243.5" r="33.8" stroke="url(#vr10)"/><circle cx="294.5" cy="243.5" r="38.5" stroke="url(#vr12)"/></g>
<g fill="none" stroke-width="0.8" stroke-opacity="0.7" filter="url(#soft)"><path d="M289.1 254.2L286.4 253.3" stroke="#f85d03"/><path d="M286.4 253.3L283.9 251.6" stroke="#ff8400"/><path d="M283.9 251.6L281.8 249.3" stroke="#fcb900"/><path d="M281.8 249.3L280.2 246.5" stroke="#dae300"/><path d="M280.2 246.5L279.2 243.2" stroke="#77e505"/><path d="M279.2 243.2L279.0 239.6" stroke="#13e220"/><path d="M279.0 239.6L279.7 235.9" stroke="#05e89f"/><path d="M279.7 235.9L281.3 232.4" stroke="#00d2eb"/><path d="M281.3 232.4L283.7 229.2" stroke="#039cff"/><path d="M283.7 229.2L286.9 226.5" stroke="#0760ff"/><path d="M286.9 226.5L290.7 224.6" stroke="#0c38fa"/><path d="M290.7 224.6L295.1 223.6" stroke="#122bec"/><path d="M309.8 251.0L308.2 254.2" stroke="#e4e200"/><path d="M308.2 254.2L305.9 257.2" stroke="#fcb700"/><path d="M305.9 257.2L302.9 259.6" stroke="#ff8500"/><path d="M302.9 259.6L299.5 261.4" stroke="#f96003"/><path d="M299.5 261.4L295.6 262.4" stroke="#f44706"/><path d="M295.6 262.4L291.6 262.6" stroke="#f23d07"/><path d="M291.6 262.6L287.5 261.9" stroke="#f24006"/><path d="M287.5 261.9L283.6 260.4" stroke="#f65005"/><path d="M283.6 260.4L280.0 258.0" stroke="#fb6e02"/><path d="M280.0 258.0L277.0 254.8" stroke="#fe9900"/><path d="M277.0 254.8L274.6 251.1" stroke="#fbcf00"/><path d="M274.6 251.1L273.1 246.8" stroke="#bee400"/><path d="M273.1 246.8L272.5 242.2" stroke="#5ee409"/><path d="M272.5 242.2L272.9 237.5" stroke="#10e335"/><path d="M272.9 237.5L274.3 232.9" stroke="#04e9ac"/><path d="M274.3 232.9L276.6 228.7" stroke="#00d1ec"/><path d="M315.1 251.3L313.1 255.8" stroke="#bee400"/><path d="M313.1 255.8L310.1 259.8" stroke="#fbcc00"/><path d="M310.1 259.8L306.3 263.1" stroke="#fe9400"/><path d="M306.3 263.1L301.7 265.5" stroke="#fa6902"/><path d="M301.7 265.5L296.8 266.8" stroke="#f54c05"/><path d="M296.8 266.8L291.5 267.0" stroke="#f23d07"/><path d="M291.5 267.0L286.3 266.0" stroke="#f23e06"/><path d="M286.3 266.0L281.4 263.9" stroke="#f54f05"/><path d="M281.4 263.9L277.1 260.7" stroke="#fb6e02"/><path d="M277.1 260.7L273.4 256.6" stroke="#fe9b00"/><path d="M273.4 256.6L270.8 251.8" stroke="#fbd400"/><path d="M270.8 251.8L269.3 246.4" stroke="#b2e500"/><path d="M269.3 246.4L269.0 240.7" stroke="#4be30b"/><path d="M269.0 240.7L270.0 235.1" stroke="#0ee451"/><path d="M270.0 235.1L272.2 229.7" stroke="#01ebcd"/><path d="M269.8 254.4L267.7 249.0" stroke="#d4e300"/><path d="M267.7 249.0L266.7 243.2" stroke="#76e505"/><path d="M266.7 243.2L267.1 237.2" stroke="#13e11a"/><path d="M267.1 237.2L268.7 231.4" stroke="#07e893"/><path d="M268.7 231.4L271.5 226.0" stroke="#00d9e4"/><path d="M271.5 226.0L275.5 221.2" stroke="#02aaff"/><path d="M275.5 221.2L280.5 217.4" stroke="#066eff"/><path d="M280.5 217.4L286.3 214.6" stroke="#0a3fff"/><path d="M286.3 214.6L292.6 213.2" stroke="#112ff0"/><path d="M292.6 213.2L299.1 213.1" stroke="#1428e9"/><path d="M299.1 213.1L305.6 214.4" stroke="#132aeb"/><path d="M305.6 214.4L311.7 217.1" stroke="#0e34f6"/><path d="M266.9 257.7L264.3 251.5" stroke="#ece200"/><path d="M264.3 251.5L263.0 244.8" stroke="#91e601"/><path d="M263.0 244.8L263.2 238.0" stroke="#29e211"/><path d="M263.2 238.0L264.8 231.3" stroke="#0ae676"/><path d="M264.8 231.3L267.9 225.1" stroke="#00e2db"/><path d="M267.9 225.1L272.3 219.7" stroke="#00b9ff"/><path d="M272.3 219.7L277.8 215.2" stroke="#0579ff"/><path d="M277.8 215.2L284.2 212.0" stroke="#0947ff"/><path d="M284.2 212.0L291.1 210.3" stroke="#0f31f3"/><path d="M291.1 210.3L298.3 210.1" stroke="#1429ea"/><path d="M298.3 210.1L305.5 211.4" stroke="#1329ea"/><path d="M305.5 211.4L312.2 214.3" stroke="#0f32f3"/><path d="M312.2 214.3L318.3 218.6" stroke="#0949ff"/><path d="M318.3 218.6L323.3 224.1" stroke="#057cff"/><path d="M323.3 224.1L327.0 230.6" stroke="#00bdff"/><path d="M327.0 230.6L329.3 237.9" stroke="#00e4d9"/><path d="M329.3 237.9L329.9 245.4" stroke="#0ae66f"/><path d="M329.9 245.4L328.9 253.1" stroke="#2fe210"/><path d="M300.4 278.0L292.6 279.1" stroke="#f34006"/><path d="M292.6 279.1L284.7 278.4" stroke="#f23c07"/><path d="M284.7 278.4L277.0 275.9" stroke="#f44806"/><path d="M277.0 275.9L269.9 271.7" stroke="#f96203"/><path d="M269.9 271.7L263.8 266.0" stroke="#ff8a00"/><path d="M263.8 266.0L259.1 259.0" stroke="#fcbf00"/><path d="M259.1 259.0L256.0 250.9" stroke="#d2e300"/><path d="M256.0 250.9L254.7 242.3" stroke="#70e506"/><path d="M254.7 242.3L255.3 233.4" stroke="#12e225"/><path d="M255.3 233.4L257.9 224.8" stroke="#05e8a2"/><path d="M257.9 224.8L262.5 216.9" stroke="#00d2eb"/><path d="M262.5 216.9L268.7 210.0" stroke="#039dff"/><path d="M268.7 210.0L276.4 204.6" stroke="#0762ff"/><path d="M276.4 204.6L285.3 201.0" stroke="#0c39fb"/><path d="M285.3 201.0L294.8 199.4" stroke="#122ced"/><path d="M294.8 199.4L304.6 200.0" stroke="#1428e9"/><path d="M260.0 225.3L264.3 217.7" stroke="#00d0ed"/><path d="M264.3 217.7L270.4 211.0" stroke="#0399ff"/><path d="M270.4 211.0L277.9 205.9" stroke="#075dff"/><path d="M277.9 205.9L286.6 202.4" stroke="#0c37fa"/><path d="M286.6 202.4L295.9 201.0" stroke="#122bec"/><path d="M295.9 201.0L305.5 201.7" stroke="#1428e9"/><path d="M305.5 201.7L314.8 204.6" stroke="#112eef"/><path d="M314.8 204.6L323.4 209.5" stroke="#0a3dff"/><path d="M323.4 209.5L330.8 216.4" stroke="#066eff"/><path d="M330.8 216.4L336.6 224.8" stroke="#01adff"/><path d="M336.6 224.8L340.4 234.5" stroke="#00dce1"/><path d="M340.4 234.5L341.9 245.0" stroke="#08e781"/><path d="M341.9 245.0L341.1 255.6" stroke="#23e212"/><path d="M341.1 255.6L337.9 266.0" stroke="#8fe601"/><path d="M335.7 255.9L332.3 264.7" stroke="#a0e600"/><path d="M332.3 264.7L327.0 272.6" stroke="#fae100"/><path d="M327.0 272.6L320.1 279.2" stroke="#fda600"/><path d="M320.1 279.2L311.8 284.2" stroke="#fd7701"/><path d="M311.8 284.2L302.6 287.3" stroke="#f65504"/><path d="M302.6 287.3L292.9 288.4" stroke="#f34106"/><path d="M292.9 288.4L283.1 287.3" stroke="#f23c07"/><path d="M283.1 287.3L273.7 284.0" stroke="#f44606"/><path d="M273.7 284.0L265.2 278.8" stroke="#f85f03"/><path d="M265.2 278.8L258.0 271.8" stroke="#ff8500"/><path d="M258.0 271.8L252.4 263.3" stroke="#fcb800"/><path d="M252.4 263.3L248.8 253.8" stroke="#dee200"/><path d="M248.8 253.8L247.4 243.6" stroke="#7fe504"/><path d="M247.4 243.6L248.1 233.3" stroke="#15e114"/><path d="M248.1 233.3L251.2 223.3" stroke="#07e78f"/><path d="M251.2 223.3L256.4 214.2" stroke="#00d9e4"/><path d="M256.4 214.2L263.4 206.4" stroke="#02a9ff"/><path d="M263.4 206.4L272.1 200.2" stroke="#066cff"/></g>
<circle cx="294.5" cy="243.5" r="10" fill="url(#btglow)"/>
<rect x="352" y="155" width="96" height="171" fill="url(#bscyl)"/>
<rect x="352" y="155" width="96" height="171" fill="url(#bsside)"/>
<ellipse cx="382" cy="242" rx="36" ry="40" fill="url(#bsglow)"/>
<g fill="none" stroke="url(#bsh)" stroke-width="0.75" stroke-opacity="0.85" filter="url(#soft)"><polyline points="396.6,158 402.6,161 408.6,164 414.3,167 419.5,170 424.1,173 427.8,176 430.5,179 432.2,182 432.8,185 432.3,188 430.6,191 427.9,194 424.2,197 419.6,200 414.5,203 408.8,206 402.8,209 396.8,212 390.9,215 385.4,218 380.4,221 376.2,224 372.8,227 370.5,230 369.2,233 369.0,236 370.0,239 372.1,242 375.2,245 379.3,248 384.1,251 389.5,254 395.3,257 401.3,260 407.3,263 413.1,266 418.4,269 423.1,272 427.0,275 430.0,278 432.0,281 432.8,284 432.5,287 431.1,290 428.6,293 425.1,296 420.7,299 415.7,302 410.1,305 404.2,308 398.1,311 392.2,314 386.6,317 381.5,320 377.0,323"/><polyline points="414.7,158 420.6,161 425.9,164 430.4,167 434.0,170 436.4,173 437.7,176 437.8,179 436.7,182 434.4,185 431.0,188 426.6,191 421.4,194 415.5,197 409.3,200 402.8,203 396.3,206 390.1,209 384.3,212 379.3,215 375.0,218 371.8,221 369.7,224 368.7,227 369.0,230 370.5,233 373.2,236 376.9,239 381.5,242 386.9,245 392.9,248 399.3,251 405.8,254 412.2,257 418.3,260 423.9,263 428.7,266 432.7,269 435.6,272 437.3,275 437.9,278 437.3,281 435.4,284 432.4,287 428.4,290 423.5,293 417.9,296 411.8,299 405.4,302 398.9,305 392.5,308 386.6,311 381.2,314 376.6,317 373.0,320 370.4,323"/><polyline points="407.8,158 409.9,161 411.4,164 412.1,167 412.1,170 411.3,173 409.9,176 407.8,179 405.1,182 401.9,185 398.3,188 394.6,191 390.7,194 386.9,197 383.2,200 379.9,203 377.1,206 374.8,209 373.1,212 372.2,215 371.9,218 372.4,221 373.7,224 375.6,227 378.1,230 381.1,233 384.6,236 388.3,239 392.2,242 396.0,245 399.7,248 403.1,251 406.1,254 408.6,257 410.5,260 411.7,263 412.2,266 411.9,269 410.9,272 409.2,275 406.9,278 404.0,281 400.7,284 397.0,287 393.2,290 389.3,293 385.6,296 382.0,299 378.9,302 376.2,305 374.1,308 372.7,311 372.0,314 372.0,317 372.8,320 374.3,323"/><polyline points="418.6,158 418.9,161 418.6,164 417.7,167 416.2,170 414.2,173 411.8,176 409.0,179 406.0,182 402.9,185 399.8,188 396.9,191 394.2,194 391.8,197 389.9,200 388.4,203 387.6,206 387.3,209 387.7,212 388.6,215 390.1,218 392.1,221 394.6,224 397.4,227 400.3,230 403.4,233 406.5,236 409.5,239 412.2,242 414.5,245 416.5,248 417.9,251 418.7,254 418.9,257 418.5,260 417.5,263 416.0,266 414.0,269 411.5,272 408.7,275 405.7,278 402.6,281 399.6,284 396.6,287 393.9,290 391.6,293 389.7,296 388.3,299 387.5,302 387.3,305 387.7,308 388.7,311 390.3,314 392.4,317 394.8,320 397.6,323"/><polyline points="421.0,158 420.4,161 419.4,164 417.9,167 416.0,170 413.8,173 411.3,176 408.7,179 406.0,182 403.3,185 400.6,188 398.2,191 395.9,194 394.1,197 392.6,200 391.5,203 391.0,206 390.9,209 391.3,212 392.2,215 393.6,218 395.3,221 397.4,224 399.8,227 402.4,230 405.1,233 407.9,236 410.5,239 413.1,242 415.3,245 417.3,248 418.9,251 420.1,254 420.8,257 421.1,260 420.8,263 420.0,266 418.8,269 417.2,272 415.2,275 412.9,278 410.3,281 407.6,284 404.9,287 402.2,290 399.6,293 397.2,296 395.2,299 393.4,302 392.1,305 391.3,308 390.9,311 391.0,314 391.6,317 392.7,320 394.2,323"/><polyline points="412.9,158 408.3,161 403.0,164 397.4,167 391.6,170 385.9,173 380.4,176 375.3,179 370.9,182 367.3,185 364.6,188 363.0,191 362.5,194 363.1,197 364.8,200 367.5,203 371.2,206 375.7,209 380.8,212 386.3,215 392.1,218 397.9,221 403.5,224 408.6,227 413.2,230 417.0,233 419.9,236 421.7,239 422.5,242 422.1,245 420.6,248 418.1,251 414.6,254 410.3,257 405.3,260 399.8,263 394.1,266 388.3,269 382.6,272 377.4,275 372.7,278 368.7,281 365.6,284 363.5,287 362.5,290 362.7,293 363.9,296 366.2,299 369.5,302 373.7,305 378.6,308 383.9,311 389.6,314 395.4,317 401.1,320 406.5,323"/><polyline points="412.7,158 409.7,161 406.4,164 403.2,167 400.0,170 397.0,173 394.3,176 392.0,179 390.2,182 389.0,185 388.4,188 388.4,191 389.0,194 390.3,197 392.0,200 394.3,203 397.0,206 400.0,209 403.2,212 406.5,215 409.7,218 412.8,221 415.6,224 418.0,227 419.9,230 421.3,233 422.1,236 422.3,239 421.9,242 420.8,245 419.2,248 417.1,251 414.5,254 411.6,257 408.5,260 405.2,263 402.0,266 398.8,269 395.9,272 393.4,275 391.3,278 389.7,281 388.7,284 388.3,287 388.6,290 389.4,293 390.9,296 392.8,299 395.3,302 398.1,305 401.2,308 404.4,311 407.7,314 410.8,317 413.8,320 416.5,323"/><polyline points="398.6,158 392.4,161 386.2,164 380.3,167 374.8,170 369.9,173 365.7,176 362.4,179 360.0,182 358.8,185 358.5,188 359.4,191 361.4,194 364.3,197 368.2,200 372.9,203 378.2,206 384.0,209 390.1,212 396.3,215 402.4,218 408.3,221 413.7,224 418.5,227 422.5,230 425.6,233 427.8,236 428.9,239 428.9,242 427.8,245 425.6,248 422.5,251 418.4,254 413.6,257 408.2,260 402.4,263 396.2,266 390.0,269 383.9,272 378.1,275 372.8,278 368.2,281 364.3,284 361.4,287 359.4,290 358.5,293 358.8,296 360.1,299 362.4,302 365.7,305 369.9,308 374.9,311 380.4,314 386.3,317 392.5,320 398.7,323"/><polyline points="385.0,158 380.4,161 376.3,164 373.0,167 370.5,170 369.0,173 368.4,176 368.9,179 370.4,182 372.8,185 376.0,188 380.0,191 384.6,194 389.6,197 394.9,200 400.3,203 405.5,206 410.4,209 414.8,212 418.6,215 421.6,218 423.8,221 424.9,224 425.1,227 424.3,230 422.4,233 419.7,236 416.2,239 411.9,242 407.1,245 402.0,248 396.7,251 391.3,254 386.2,257 381.5,260 377.3,263 373.7,266 371.1,269 369.3,272 368.5,275 368.7,278 369.9,281 372.1,284 375.1,287 379.0,290 383.4,293 388.4,296 393.6,299 398.9,302 404.2,305 409.2,308 413.8,311 417.7,314 421.0,317 423.3,320 424.7,323"/><polyline points="393.7,158 391.8,161 390.4,164 389.5,167 389.2,170 389.4,173 390.2,176 391.6,179 393.4,182 395.7,185 398.3,188 401.1,191 404.0,194 406.9,197 409.8,200 412.4,203 414.7,206 416.5,209 417.9,212 418.8,215 419.1,218 418.8,221 418.0,224 416.6,227 414.7,230 412.4,233 409.9,236 407.0,239 404.1,242 401.2,245 398.4,248 395.8,251 393.5,254 391.7,257 390.3,260 389.4,263 389.2,266 389.5,269 390.3,272 391.7,275 393.6,278 395.9,281 398.5,284 401.3,287 404.3,290 407.2,293 410.0,296 412.6,299 414.8,302 416.7,305 418.0,308 418.8,311 419.1,314 418.8,317 417.9,320 416.4,323"/><polyline points="386.3,158 386.2,161 386.7,164 387.8,167 389.5,170 391.7,173 394.3,176 397.3,179 400.5,182 403.9,185 407.3,188 410.7,191 413.9,194 416.9,197 419.5,200 421.7,203 423.3,206 424.4,209 424.9,212 424.9,215 424.2,218 422.9,221 421.1,224 418.8,227 416.0,230 413.0,233 409.7,236 406.3,239 402.8,242 399.5,245 396.3,248 393.5,251 391.0,254 388.9,257 387.4,260 386.5,263 386.1,266 386.4,269 387.3,272 388.7,275 390.7,278 393.1,281 395.9,284 399.1,287 402.4,290 405.8,293 409.2,296 412.5,299 415.6,302 418.4,305 420.8,308 422.7,311 424.0,314 424.8,317 425.0,320 424.5,323"/><polyline points="368.1,158 370.6,161 374.0,164 378.4,167 383.4,170 389.0,173 395.0,176 401.1,179 407.2,182 413.1,185 418.5,188 423.3,191 427.4,194 430.6,197 432.7,200 433.8,203 433.8,206 432.7,209 430.5,212 427.3,215 423.2,218 418.3,221 412.9,224 407.0,227 400.9,230 394.8,233 388.8,236 383.2,239 378.2,242 373.9,245 370.5,248 368.0,251 366.6,254 366.3,257 367.1,260 369.1,263 372.0,266 375.8,269 380.5,272 385.8,275 391.6,278 397.7,281 403.8,284 409.8,287 415.5,290 420.7,293 425.2,296 428.9,299 431.7,302 433.4,305 434.0,308 433.5,311 431.8,314 429.2,317 425.6,320 421.1,323"/><polyline points="380.7,158 383.7,161 387.6,164 392.0,167 396.9,170 402.0,173 407.2,176 412.3,179 417.0,182 421.2,185 424.7,188 427.4,191 429.2,194 429.9,197 429.7,200 428.4,203 426.1,206 423.0,209 419.1,212 414.6,215 409.6,218 404.4,221 399.2,224 394.2,227 389.5,230 385.4,233 382.0,236 379.4,239 377.8,242 377.2,245 377.6,248 379.0,251 381.4,254 384.7,257 388.7,260 393.2,263 398.2,266 403.4,269 408.6,272 413.6,275 418.2,278 422.2,281 425.5,284 428.0,287 429.5,290 430.0,293 429.4,296 427.9,299 425.4,302 422.0,305 417.9,308 413.3,311 408.3,314 403.1,317 397.9,320 392.9,323"/><polyline points="387.5,158 394.5,161 401.6,164 408.6,167 415.2,170 421.2,173 426.2,176 430.2,179 433.1,182 434.6,185 434.7,188 433.5,191 430.9,194 427.2,197 422.3,200 416.5,203 410.1,206 403.1,209 396.0,212 388.9,215 382.2,218 376.1,221 370.7,224 366.3,227 363.1,230 361.2,233 360.7,236 361.5,239 363.6,242 367.0,245 371.6,248 377.1,251 383.4,254 390.2,257 397.3,260 404.4,263 411.2,266 417.6,269 423.2,272 427.9,275 431.5,278 433.8,281 434.8,284 434.4,287 432.7,290 429.6,293 425.4,296 420.2,299 414.1,302 407.4,305 400.4,308 393.3,311 386.3,314 379.8,317 373.9,320 368.9,323"/><path d="M389.8 180.8L429.7 160.1"/><path d="M366.5 176.4L402.2 164.9"/><path d="M392.3 182.4L425.5 163"/><path d="M377.2 184.1L410.6 162"/><path d="M374.9 177.6L405.2 164.4"/><path d="M384.1 184L413.7 157.8"/><path d="M352 318L400 300"/><path d="M358 324L410 306"/><path d="M372 322L425 302"/><path d="M400 331L440 305"/><path d="M430 328L447 308"/><path d="M452 320L440 300"/></g>
<rect x="476.5" y="58" width="101.5" height="104" fill="#f6f4f5"/>
<path d="M505.5 67.5H551.5V72.1H505.5ZM500.9 72.1H556.1V76.7H500.9ZM496.3 76.7H560.7V81.3H496.3ZM491.7 81.3H565.3V85.9H491.7ZM487.1 85.9H569.9V90.5H487.1ZM482.5 90.5H574.5V95.1H482.5ZM482.5 95.1H574.5V99.7H482.5ZM482.5 99.7H574.5V104.3H482.5ZM482.5 104.3H574.5V108.9H482.5ZM482.5 108.9H574.5V113.5H482.5ZM482.5 113.5H574.5V118.1H482.5ZM482.5 118.1H574.5V122.7H482.5ZM482.5 122.7H574.5V127.3H482.5ZM482.5 127.3H574.5V131.9H482.5ZM482.5 131.9H574.5V136.5H482.5ZM487.1 136.5H569.9V141.1H487.1ZM491.7 141.1H565.3V145.7H491.7ZM496.3 145.7H560.7V150.3H496.3ZM500.9 150.3H556.1V154.9H500.9ZM505.5 154.9H551.5V159.5H505.5Z" fill="#d6b8be"/>
<path d="M510.1 70.5H546.9V75.1H510.1ZM505.5 75.1H551.5V79.7H505.5ZM500.9 79.7H556.1V84.3H500.9ZM496.3 84.3H560.7V88.9H496.3ZM491.7 88.9H565.3V93.5H491.7ZM487.1 93.5H569.9V98.1H487.1ZM485.5 98.1H571.5V102.7H485.5ZM485.5 102.7H571.5V107.3H485.5ZM485.5 107.3H571.5V111.9H485.5ZM485.5 111.9H571.5V116.5H485.5ZM485.5 116.5H571.5V121.1H485.5ZM485.5 121.1H571.5V125.7H485.5ZM485.5 125.7H571.5V130.3H485.5ZM487.1 130.3H569.9V134.9H487.1ZM491.7 134.9H565.3V139.5H491.7ZM496.3 139.5H560.7V144.1H496.3ZM500.9 144.1H556.1V148.7H500.9ZM505.5 148.7H551.5V153.3H505.5ZM510.1 153.3H546.9V156.5H510.1Z" fill="#b88890" fill-opacity="0.85"/>
<path d="M510.1 75.5H546.9V80.1H510.1ZM505.5 80.1H551.5V84.7H505.5ZM500.9 84.7H556.1V89.3H500.9ZM496.3 89.3H560.7V93.9H496.3ZM491.7 93.9H565.3V98.5H491.7ZM490.5 98.5H566.5V103.1H490.5ZM490.5 103.1H566.5V107.7H490.5ZM490.5 107.7H566.5V112.3H490.5ZM490.5 112.3H566.5V116.9H490.5ZM490.5 116.9H566.5V121.5H490.5ZM490.5 121.5H566.5V126.1H490.5ZM490.5 126.1H566.5V130.7H490.5ZM496.3 130.7H560.7V135.3H496.3ZM500.9 135.3H556.1V139.9H500.9ZM505.5 139.9H551.5V144.5H505.5ZM510.1 144.5H546.9V149.1H510.1ZM510.1 149.1H546.9V151.5H510.1Z" fill="#a87880" fill-opacity="0.35"/>
<path d="M505.5 67.5H551.5V72.1H505.5ZM500.9 72.1H556.1V76.7H500.9ZM496.3 76.7H560.7V81.3H496.3ZM491.7 81.3H565.3V85.9H491.7ZM487.1 85.9H569.9V90.5H487.1ZM482.5 90.5H574.5V95.1H482.5ZM482.5 95.1H574.5V99.7H482.5ZM482.5 99.7H574.5V104.3H482.5ZM482.5 104.3H574.5V108.9H482.5ZM482.5 108.9H574.5V113.5H482.5ZM482.5 113.5H574.5V118.1H482.5ZM482.5 118.1H574.5V122.7H482.5ZM482.5 122.7H574.5V127.3H482.5ZM482.5 127.3H574.5V131.9H482.5ZM482.5 131.9H574.5V136.5H482.5ZM487.1 136.5H569.9V141.1H487.1ZM491.7 141.1H565.3V145.7H491.7ZM496.3 145.7H560.7V150.3H496.3ZM500.9 150.3H556.1V154.9H500.9ZM505.5 154.9H551.5V159.5H505.5Z" fill="url(#dots)"/>
<g fill="none" stroke-width="0.85" stroke-opacity="0.8" filter="url(#soft)"><path d="M537.3 66.8L528.0 67.3" stroke="#00c7f6"/><path d="M528.0 67.3L519.2 69.5" stroke="#00ccf1"/><path d="M519.2 69.5L511.2 73.3" stroke="#00d5e8"/><path d="M511.2 73.3L504.4 78.5" stroke="#00e2db"/><path d="M504.4 78.5L498.9 84.8" stroke="#02eac0"/><path d="M498.9 84.8L494.9 91.9" stroke="#07e78d"/><path d="M494.9 91.9L492.4 99.4" stroke="#0de455"/><path d="M492.4 99.4L491.6 106.9" stroke="#13e11b"/><path d="M491.6 106.9L492.3 114.3" stroke="#40e30d"/><path d="M492.3 114.3L494.4 121.1" stroke="#70e506"/><path d="M494.4 121.1L497.7 127.2" stroke="#9ce600"/><path d="M497.7 127.2L502.0 132.3" stroke="#c0e400"/><path d="M502.0 132.3L507.0 136.2" stroke="#dee200"/><path d="M507.0 136.2L512.6 138.9" stroke="#f5e100"/><path d="M512.6 138.9L518.3 140.4" stroke="#fada00"/><path d="M518.3 140.4L524.0 140.6" stroke="#fbd700"/><path d="M524.0 140.6L529.4 139.7" stroke="#fada00"/><path d="M529.4 139.7L534.2 137.8" stroke="#f7e100"/><path d="M534.2 137.8L538.4 135.1" stroke="#e2e200"/><path d="M538.4 135.1L541.7 131.7" stroke="#c5e400"/><path d="M541.7 131.7L544.1 127.9" stroke="#a1e500"/><path d="M544.1 127.9L545.6 123.9" stroke="#76e505"/><path d="M545.6 123.9L546.1 119.9" stroke="#46e30c"/><path d="M546.1 119.9L545.8 116.2" stroke="#14e114"/><path d="M545.8 116.2L544.7 112.8" stroke="#0ee44e"/><path d="M544.7 112.8L543.1 109.9" stroke="#08e786"/><path d="M543.1 109.9L540.9 107.6" stroke="#03eab9"/><path d="M540.9 107.6L538.5 106.0" stroke="#00e4d9"/><path d="M538.5 106.0L536.0 105.1" stroke="#00d7e6"/><path d="M536.0 105.1L533.6 104.9" stroke="#00cdf0"/><path d="M555.4 77.5L547.3 74.0" stroke="#00caf3"/><path d="M547.3 74.0L538.9 72.2" stroke="#00c6f7"/><path d="M538.9 72.2L530.5 72.2" stroke="#00c6f7"/><path d="M530.5 72.2L522.5 73.7" stroke="#00caf3"/><path d="M522.5 73.7L515.2 76.8" stroke="#00d2eb"/><path d="M515.2 76.8L508.8 81.1" stroke="#00dedf"/><path d="M508.8 81.1L503.6 86.4" stroke="#00ebce"/><path d="M503.6 86.4L499.8 92.5" stroke="#06e89d"/><path d="M499.8 92.5L497.2 99.1" stroke="#0be566"/><path d="M497.2 99.1L496.2 105.8" stroke="#11e22d"/><path d="M496.2 105.8L496.4 112.3" stroke="#31e210"/><path d="M496.4 112.3L498.0 118.5" stroke="#62e408"/><path d="M498.0 118.5L500.6 124.0" stroke="#90e601"/><path d="M500.6 124.0L504.2 128.6" stroke="#b6e400"/><path d="M504.2 128.6L508.5 132.3" stroke="#d6e300"/><path d="M508.5 132.3L513.3 134.9" stroke="#efe200"/><path d="M513.3 134.9L518.2 136.4" stroke="#fadd00"/><path d="M518.2 136.4L523.2 136.9" stroke="#fbd700"/><path d="M523.2 136.9L527.9 136.3" stroke="#fad800"/><path d="M527.9 136.3L532.2 134.8" stroke="#fae000"/><path d="M532.2 134.8L535.9 132.6" stroke="#e9e200"/><path d="M535.9 132.6L538.9 129.8" stroke="#cee300"/><path d="M538.9 129.8L541.1 126.6" stroke="#ace500"/><path d="M541.1 126.6L542.4 123.2" stroke="#84e503"/><path d="M542.4 123.2L543.0 119.8" stroke="#55e30a"/><path d="M543.0 119.8L542.8 116.6" stroke="#23e212"/><path d="M542.8 116.6L542.0 113.7" stroke="#10e33d"/><path d="M542.0 113.7L540.6 111.2" stroke="#0ae676"/><path d="M540.6 111.2L538.9 109.3" stroke="#04e9ab"/><path d="M538.9 109.3L536.9 108.0" stroke="#00e8d5"/><path d="M565.3 93.5L559.8 87.3" stroke="#00e0dd"/><path d="M559.8 87.3L553.4 82.5" stroke="#00d3ea"/><path d="M553.4 82.5L546.3 79.2" stroke="#00cbf2"/><path d="M546.3 79.2L538.9 77.4" stroke="#00c6f7"/><path d="M538.9 77.4L531.5 77.1" stroke="#00c5f8"/><path d="M531.5 77.1L524.4 78.3" stroke="#00c9f4"/><path d="M524.4 78.3L517.9 80.8" stroke="#00d0ed"/><path d="M517.9 80.8L512.2 84.4" stroke="#00dbe2"/><path d="M512.2 84.4L507.5 89.0" stroke="#00ead3"/><path d="M507.5 89.0L503.9 94.2" stroke="#05e9a6"/><path d="M503.9 94.2L501.6 99.9" stroke="#0ae670"/><path d="M501.6 99.9L500.4 105.8" stroke="#10e337"/><path d="M500.4 105.8L500.5 111.5" stroke="#28e211"/><path d="M500.5 111.5L501.7 116.9" stroke="#59e409"/><path d="M501.7 116.9L503.9 121.8" stroke="#88e502"/><path d="M503.9 121.8L506.9 125.9" stroke="#b0e500"/><path d="M506.9 125.9L510.6 129.2" stroke="#d1e300"/><path d="M510.6 129.2L514.7 131.6" stroke="#ebe200"/><path d="M514.7 131.6L519.0 133.0" stroke="#fadf00"/><path d="M519.0 133.0L523.2 133.4" stroke="#fad800"/><path d="M523.2 133.4L527.3 133.0" stroke="#fbd700"/><path d="M527.3 133.0L531.0 131.8" stroke="#fade00"/><path d="M531.0 131.8L534.2 130.0" stroke="#ede200"/><path d="M534.2 130.0L536.8 127.6" stroke="#d3e300"/><path d="M536.8 127.6L538.7 124.9" stroke="#b3e500"/><path d="M538.7 124.9L539.9 122.0" stroke="#8ce602"/><path d="M539.9 122.0L540.4 119.2" stroke="#5de409"/><path d="M540.4 119.2L540.3 116.5" stroke="#2ce210"/><path d="M540.3 116.5L539.5 114.0" stroke="#11e332"/><path d="M539.5 114.0L538.4 112.0" stroke="#0be66c"/><path d="M522.6 160.1L531.8 159.1" stroke="#fadb00"/><path d="M531.8 159.1L540.4 156.4" stroke="#f4e100"/><path d="M540.4 156.4L548.0 152.1" stroke="#dde200"/><path d="M548.0 152.1L554.5 146.5" stroke="#bee400"/><path d="M554.5 146.5L559.5 140.0" stroke="#9ae600"/><path d="M559.5 140.0L563.0 132.8" stroke="#6de406"/><path d="M563.0 132.8L565.0 125.2" stroke="#3de30e"/><path d="M565.0 125.2L565.3 117.7" stroke="#13e21f"/><path d="M565.3 117.7L564.2 110.5" stroke="#0de559"/><path d="M564.2 110.5L561.8 103.9" stroke="#07e890"/><path d="M561.8 103.9L558.1 98.1" stroke="#02eac3"/><path d="M558.1 98.1L553.6 93.3" stroke="#00e1dc"/><path d="M553.6 93.3L548.3 89.8" stroke="#00d4e9"/><path d="M548.3 89.8L542.7 87.4" stroke="#00cbf2"/><path d="M542.7 87.4L536.9 86.3" stroke="#00c6f7"/><path d="M536.9 86.3L531.3 86.4" stroke="#00c5f8"/><path d="M531.3 86.4L526.0 87.6" stroke="#00c8f5"/><path d="M526.0 87.6L521.3 89.8" stroke="#00cfee"/><path d="M521.3 89.8L517.4 92.7" stroke="#00dae3"/><path d="M517.4 92.7L514.3 96.3" stroke="#00e8d5"/><path d="M514.3 96.3L512.2 100.2" stroke="#04e9ab"/><path d="M512.2 100.2L510.9 104.2" stroke="#0ae675"/><path d="M510.9 104.2L510.7 108.2" stroke="#10e33d"/><path d="M510.7 108.2L511.2 111.9" stroke="#23e212"/><path d="M511.2 111.9L512.4 115.2" stroke="#55e30a"/><path d="M512.4 115.2L514.3 118.0" stroke="#84e503"/><path d="M514.3 118.0L516.5 120.1" stroke="#ace500"/><path d="M516.5 120.1L519.0 121.5" stroke="#cee300"/><path d="M519.0 121.5L521.5 122.3" stroke="#e9e200"/><path d="M521.5 122.3L523.9 122.4" stroke="#fae000"/><path d="M501.4 148.6L509.4 152.2" stroke="#fadf00"/><path d="M509.4 152.2L517.6 154.1" stroke="#fad800"/><path d="M517.6 154.1L525.9 154.3" stroke="#fbd700"/><path d="M525.9 154.3L533.8 152.9" stroke="#fade00"/><path d="M533.8 152.9L541.1 150.0" stroke="#ede200"/><path d="M541.1 150.0L547.4 145.8" stroke="#d4e300"/><path d="M547.4 145.8L552.6 140.6" stroke="#b3e500"/><path d="M552.6 140.6L556.6 134.7" stroke="#8ce601"/><path d="M556.6 134.7L559.2 128.2" stroke="#5ee409"/><path d="M559.2 128.2L560.3 121.6" stroke="#2de210"/><path d="M560.3 121.6L560.2 115.2" stroke="#11e331"/><path d="M560.2 115.2L558.8 109.1" stroke="#0be66b"/><path d="M558.8 109.1L556.2 103.6" stroke="#05e8a1"/><path d="M556.2 103.6L552.7 98.9" stroke="#00ebd1"/><path d="M552.7 98.9L548.6 95.2" stroke="#00dde0"/><path d="M548.6 95.2L543.9 92.5" stroke="#00d1ec"/><path d="M543.9 92.5L539.0 91.0" stroke="#00c9f4"/><path d="M539.0 91.0L534.1 90.5" stroke="#00c6f7"/><path d="M534.1 90.5L529.4 90.9" stroke="#00c6f7"/><path d="M529.4 90.9L525.1 92.3" stroke="#00caf3"/><path d="M525.1 92.3L521.4 94.5" stroke="#00d2eb"/><path d="M521.4 94.5L518.4 97.2" stroke="#00dedf"/><path d="M518.4 97.2L516.2 100.3" stroke="#01ebcc"/><path d="M516.2 100.3L514.8 103.7" stroke="#06e89b"/><path d="M514.8 103.7L514.2 107.0" stroke="#0ce564"/><path d="M514.2 107.0L514.3 110.2" stroke="#12e22a"/><path d="M514.3 110.2L515.1 113.1" stroke="#33e20f"/><path d="M515.1 113.1L516.4 115.6" stroke="#64e408"/><path d="M516.4 115.6L518.1 117.5" stroke="#91e601"/><path d="M518.1 117.5L520.1 118.8" stroke="#b8e400"/><path d="M492.8 132.1L498.0 138.1" stroke="#cbe300"/><path d="M498.0 138.1L504.1 142.9" stroke="#e6e200"/><path d="M504.1 142.9L510.8 146.2" stroke="#fae100"/><path d="M510.8 146.2L517.9 148.1" stroke="#fad900"/><path d="M517.9 148.1L525.0 148.5" stroke="#fbd700"/><path d="M525.0 148.5L531.8 147.5" stroke="#fadc00"/><path d="M531.8 147.5L538.2 145.2" stroke="#f1e100"/><path d="M538.2 145.2L543.7 141.8" stroke="#d9e300"/><path d="M543.7 141.8L548.4 137.5" stroke="#bae400"/><path d="M548.4 137.5L551.9 132.5" stroke="#94e600"/><path d="M551.9 132.5L554.3 127.1" stroke="#67e407"/><path d="M554.3 127.1L555.5 121.4" stroke="#36e20f"/><path d="M555.5 121.4L555.5 115.9" stroke="#12e227"/><path d="M555.5 115.9L554.5 110.7" stroke="#0ce560"/><path d="M554.5 110.7L552.4 105.9" stroke="#06e897"/><path d="M552.4 105.9L549.6 101.8" stroke="#01ebc9"/><path d="M549.6 101.8L546.1 98.6" stroke="#00dfde"/><path d="M546.1 98.6L542.2 96.2" stroke="#00d3ea"/><path d="M542.2 96.2L538.1 94.7" stroke="#00cbf2"/><path d="M538.1 94.7L533.9 94.2" stroke="#00c6f7"/><path d="M533.9 94.2L530.0 94.5" stroke="#00c5f8"/><path d="M530.0 94.5L526.3 95.6" stroke="#00c9f4"/><path d="M526.3 95.6L523.2 97.3" stroke="#00d1ec"/><path d="M523.2 97.3L520.6 99.5" stroke="#00dce1"/><path d="M520.6 99.5L518.6 102.1" stroke="#00ead3"/><path d="M518.6 102.1L517.4 104.9" stroke="#05e9a4"/><path d="M517.4 104.9L516.8 107.7" stroke="#0ae66e"/><path d="M516.8 107.7L516.9 110.4" stroke="#11e335"/><path d="M516.9 110.4L517.5 112.8" stroke="#2ae211"/><path d="M517.5 112.8L518.6 114.8" stroke="#5be409"/></g>
<rect x="522.2" y="107.3" width="12.6" height="12.6" fill="#fbfff8" stroke="#80d870" stroke-width="1.3"/>
<rect x="577.5" y="5.5" width="106.5" height="337.5" fill="#f6f4f5"/>
<rect x="586" y="12.5" width="91.5" height="321.5" fill="url(#v2cyl)"/>
<rect x="586" y="12.5" width="91.5" height="321.5" fill="url(#v2side)"/>
<g fill="none" filter="url(#soft)"><path d="M602.7 18C602.9 48 604 53.5 604 93.5V279C604 307 607.1 310.1 612.1 324.1" stroke="#50d850" stroke-width="1.2" stroke-opacity="0.95"/><path d="M592 20.9C594.2 50.9 607 75.5 607 115.5V241.8C607 269.8 617.6 314.1 622.6 328.1" stroke="#38dc38" stroke-width="1.2" stroke-opacity="0.95"/><path d="M626.2 18.8C623.8 48.8 610 55.5 610 95.5V242.3C610 270.3 615.6 317.4 620.6 331.4" stroke="#50d850" stroke-width="1.2" stroke-opacity="0.95"/><path d="M597.3 23C599.6 53 613 84.6 613 124.6V279.9C613 307.9 634.4 304.1 639.4 318.1" stroke="#28e028" stroke-width="1.2" stroke-opacity="0.95"/><path d="M624.1 18.7C622.9 48.7 616 52.3 616 92.3V252C616 280 623.2 305.6 628.2 319.6" stroke="#30d830" stroke-width="1.2" stroke-opacity="0.95"/><path d="M608.2 26.2C609.8 56.2 619 91.4 619 131.4V242.5C619 270.5 629.6 309.8 634.6 323.8" stroke="#30d830" stroke-width="1.2" stroke-opacity="0.95"/><path d="M612.5 23.8C613.9 53.8 622 87.8 622 127.8V283.4C622 311.4 625.1 315.3 630.1 329.3" stroke="#28e028" stroke-width="1.2" stroke-opacity="0.95"/><path d="M639.2 15.2C637.1 45.2 625 45.6 625 85.6V243.8C625 271.8 638.8 300.3 643.8 314.3" stroke="#30d830" stroke-width="1.2" stroke-opacity="0.95"/><path d="M630.6 20.6C630.2 50.6 628 58.5 628 98.5V243.1C628 271.1 634.8 315.3 639.8 329.3" stroke="#50d850" stroke-width="1.2" stroke-opacity="0.95"/><path d="M618.2 27C620.1 57 631 85.8 631 125.8V241.9C631 269.9 639.4 313.7 644.4 327.7" stroke="#28e028" stroke-width="1.2" stroke-opacity="0.95"/><path d="M642.8 23.8C641.5 53.8 634 76.8 634 116.8V241.5C634 269.5 654.4 308 659.4 322" stroke="#28e028" stroke-width="1.2" stroke-opacity="0.95"/><path d="M624.8 20.1C626.6 50.1 637 79.5 637 119.5V278.1C637 306.1 650.4 311.3 655.4 325.3" stroke="#30d830" stroke-width="1.2" stroke-opacity="0.95"/><path d="M653.2 13.8C651.2 43.8 640 79 640 119V256.5C640 284.5 647.2 304 652.2 318" stroke="#50d850" stroke-width="1.2" stroke-opacity="0.95"/><path d="M651.8 18.1C650.5 48.1 643 72.4 643 112.4V240C643 268 648.2 304.4 653.2 318.4" stroke="#40d840" stroke-width="1.2" stroke-opacity="0.95"/><path d="M639.7 13.4C640.6 43.4 646 68.6 646 108.6V244.6C646 272.6 664.7 300.5 669.7 314.5" stroke="#50d850" stroke-width="1.2" stroke-opacity="0.95"/><path d="M660.1 20C658.4 50 649 78.3 649 118.3V251.2C649 279.2 666.8 308.5 671.8 322.5" stroke="#28e028" stroke-width="1.2" stroke-opacity="0.95"/><path d="M638.4 24.2C640.6 54.2 653 74.6 653 114.6V283C653 311 667.2 302.8 672.2 316.8" stroke="#40d840" stroke-width="1.2" stroke-opacity="0.95"/><path d="M645.2 25.5C646.9 55.5 657 65.8 657 105.8V242.3C657 270.3 675 303.5 680 317.5" stroke="#28e028" stroke-width="1.2" stroke-opacity="0.95"/><path d="M590 16C592.4 46 606 71 606 111V270C606 298 617 316 622 330" stroke="#e8c820" stroke-width="1.0" stroke-opacity="0.85"/><path d="M594 22C596.2 52 609 77 609 117V270C609 298 623 319 628 333" stroke="#d8d030" stroke-width="1.0" stroke-opacity="0.85"/><path d="M598 14C600.1 44 612 69 612 109V270C612 298 621 312 626 326" stroke="#e0a830" stroke-width="1.0" stroke-opacity="0.85"/><path d="M648 12C650.1 42 662 52 662 92V250C662 278 675 308 680 322" stroke="#40d0c0" stroke-width="0.9" stroke-opacity="0.85"/><path d="M672 18C669.9 48 658 58 658 98V250C658 278 673 304 678 318" stroke="#50c8d8" stroke-width="0.9" stroke-opacity="0.85"/><path d="M660 12C660.8 42 665 52 665 92V250C665 278 677 298 682 312" stroke="#30b8e0" stroke-width="0.9" stroke-opacity="0.85"/><path d="M674 16C673.1 46 668 56 668 96V250C668 278 678 292 683 306" stroke="#4060e0" stroke-width="0.9" stroke-opacity="0.85"/></g>
<g font-family="DejaVu Sans, sans-serif" font-weight="bold" font-size="11.7">
<text x="273.8" y="12.5" fill="#187e18">Vortex</text>
<text x="269.3" y="169.4" fill="#1212cc">Bamboo</text>
<text x="494.6" y="14.6" fill="#dd1c1c">2xVortex</text>
</g>
<path d="M238.9 132.4H466.8" stroke="#2a2a2a" stroke-width="1.1"/>
<rect x="512" y="219.5" width="6.3" height="117.3" fill="url(#cb)"/>
<path d="M520.3 220.2h6.5" stroke="#e07070" stroke-width="0.9"/><path d="M520.3 337.8h6.8" stroke="#6060c0" stroke-width="0.9"/>
<g font-family="DejaVu Sans, sans-serif" font-size="11.4" fill="#2a2a2a">
<text x="530.3" y="224.8">1</text><text x="522" y="283.8">0</text><text x="531.2" y="342.7">-1</text>
<text x="508.6" y="212">M</text><text x="518.8" y="214.8">x</text>
<text transform="translate(502.8 278.6) rotate(-90)" text-anchor="middle" font-size="12.4">Streamline</text>
</g>
</svg>
</body></html>
